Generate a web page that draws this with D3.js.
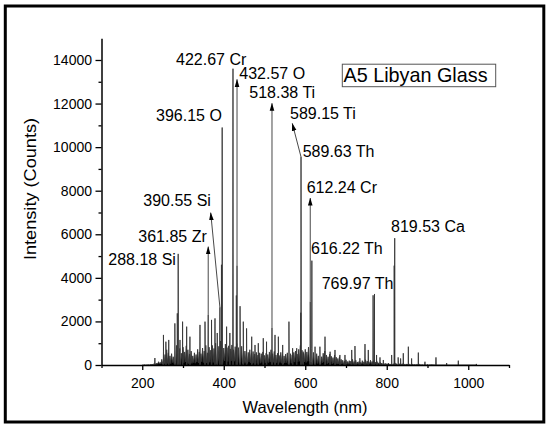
<!DOCTYPE html>
<html>
<head>
<meta charset="utf-8">
<script src="https://cdn.jsdelivr.net/npm/d3@7"></script>
<style>
  html, body { margin: 0; padding: 0; background: #fff; }
  svg { display: block; }
  text { font-family: "Liberation Sans", Arial, sans-serif; fill: #000; }
</style>
</head>
<body>
<svg id="chart" width="550" height="428"></svg>
<script>
// ---------------- DATA ----------------
const xTicks = [200, 400, 600, 800, 1000];
const xMinorTicks = [100, 300, 500, 700, 900, 1100];
const yTicks = [0, 2000, 4000, 6000, 8000, 10000, 12000, 14000];
const yMinorTicks = [1000, 3000, 5000, 7000, 9000, 11000, 13000];

// Dense background emission (2 nm grid starting at 200 nm), counts
const gridStart = 200;
const gridStep = 2;
const gridCounts = [
  0, 5, 0, 10, 0, 5, 10, 0, 15, 5, 20, 10, 30, 15, 40,
  10, 60, 20, 90, 30, 150, 40, 120, 50, 260,
  60, 620, 80, 480, 90, 700, 70, 560, 100, 420,
  60, 520, 110, 380, 70, 650, 120, 900, 90, 700,
  130, 760, 80, 540, 150, 820, 100, 600, 140, 880,
  90, 700, 60, 500, 120, 640, 70, 420, 110, 560,
  80, 480, 130, 720, 100, 600, 70, 520, 150, 780,
  110, 640, 140, 900, 90, 560, 160, 820, 120, 680,
  150, 900, 110, 760, 190, 1000, 130, 720, 170, 860,
  200, 1100, 170, 900, 130, 780, 190, 960, 140, 800,
  160, 880, 120, 740, 180, 920, 130, 700, 170, 840,
  190, 980, 150, 800, 130, 720, 170, 860, 120, 680,
  110, 640, 140, 760, 100, 580, 130, 700, 90, 540,
  120, 620, 80, 500, 110, 580, 70, 460, 100, 560,
  80, 520, 110, 600, 70, 440, 100, 540, 80, 480,
  110, 600, 130, 700, 90, 520, 120, 620, 80, 460,
  100, 540, 70, 440, 110, 580, 80, 480, 60, 420,
  90, 500, 110, 560, 70, 420, 100, 520, 80, 460,
  110, 580, 130, 640, 90, 500, 150, 720, 170, 900,
  130, 680, 100, 540, 140, 720, 110, 600, 170, 820,
  190, 1000, 130, 760, 110, 580, 80, 460, 100, 520,
  70, 420, 90, 480, 60, 380, 100, 540, 130, 640,
  80, 460, 60, 380, 90, 500, 70, 400, 50, 340,
  80, 460, 60, 360, 40, 300, 60, 380, 30, 260,
  30, 220, 20, 180, 40, 240, 20, 160, 30, 200,
  20, 180, 40, 260, 20, 160, 30, 220, 10, 140,
  20, 160, 10, 120, 30, 200, 20, 150, 30, 240,
  20, 180, 10, 140, 30, 220, 20, 160, 20, 200,
  10, 130, 20, 160, 10, 100, 20, 120, 10, 90,
  5, 70, 10, 80, 5, 60, 10, 90, 5, 50,
  10, 80, 5, 60, 10, 100, 5, 60, 0, 40,
  5, 60, 0, 40, 5, 70, 0, 30, 5, 50,
  0, 40, 5, 30, 0, 30, 5, 40, 0, 20,
  0, 30, 0, 20, 0, 30, 0, 20, 0, 15,
  0, 20, 0, 15, 0, 20, 0, 10, 0, 10
];

// Individual emission lines: wavelength (nm) and peak counts
const lineNm = [
  231, 252, 258, 265, 280, 286, 288.18, 292.6, 299, 309, 317, 341.7, 354,
  361.85, 370, 378.5, 384, 390.55, 394.4, 396.15, 407, 415, 422.67, 430.9,
  432.57, 440, 448, 456, 468.6, 476.7, 484.8, 497, 505, 518.38, 525.8, 534,
  544.6, 560, 569, 579, 589.0, 589.63, 595, 612.24, 616.22, 624, 636, 648.5,
  661, 673, 685, 697.5, 714, 722, 734, 746.6, 754.7, 766.5, 769.97, 775,
  783.4, 791.6, 812, 818.3, 819.53, 828, 834, 840.6, 853, 861, 877.5, 893.8,
  920.8, 947, 975.6, 1020
];
const lineCounts = [
  320, 1380, 1070, 1150, 1910, 2370, 5100, 1150, 1990, 1760, 1300, 1840, 1990,
  2300, 2070, 2140, 1470, 2650, 4600, 10900, 1760, 1470, 13600, 3190,
  4560, 2700, 1990, 1680, 1300, 920, 1000, 1230, 1070, 1700, 1380, 1300,
  920, 1990, 770, 770, 2400, 9550, 610, 2900, 4790, 840, 840, 1300,
  610, 690, 460, 460, 690, 870, 310, 960, 690, 3200, 3260, 460,
  350, 230, 460, 4560, 5820, 350, 300, 540, 840, 300, 570, 150,
  350, 90, 200, 50
];

// Annotation labels
const labelTexts = [
  "422.67 Cr", "432.57 O", "518.38 Ti", "396.15 O", "589.15 Ti", "589.63 Th",
  "612.24 Cr", "390.55 Si", "361.85 Zr", "288.18 Si", "819.53 Ca",
  "616.22 Th", "769.97 Th"
];

// Arrows: from (nm, counts) to (nm, counts)
const arrowFromNm = [361.85, 390.55, 432.57, 518.38, 589.63, 612.24];
const arrowFromCounts = [2300, 2650, 4560, 1700, 9550, 2900];
const arrowToNm = [361.85, 368.0, 432.57, 518.38, 568.2, 612.24];
const arrowToCounts = [5430, 6990, 13110, 12010, 11090, 7660];

const sampleName = "A5 Libyan Glass";
const xTitle = "Wavelength (nm)";
const yTitle = "Intensity (Counts)";

// ---------------- LAYOUT ----------------
const svg = d3.select("#chart");
const plot = { left: 101.5, right: 509, top: 38.2, bottom: 365 };
const x = d3.scaleLinear().domain([100, 1100]).range([plot.left, plot.right]);
const y = d3.scaleLinear().domain([0, 15000]).range([plot.bottom, plot.top]);

// label pixel positions (left x, baseline y), same order as labelTexts
const labelPos = [
  [176, 65], [239.3, 78.5], [249.3, 97.5], [156, 120.5], [290, 119.3],
  [302.7, 156.5], [306.7, 192.5], [143.3, 206], [138.3, 242.3],
  [108.3, 265], [391, 232.3], [311, 254], [321.7, 289]
];

svg.append("rect").attr("x", 0).attr("y", 0).attr("width", 550).attr("height", 428).attr("fill", "#fff");

// outer frame
svg.append("rect")
  .attr("x", 5.3).attr("y", 6).attr("width", 538.5).attr("height", 416)
  .attr("fill", "none").attr("stroke", "#000").attr("stroke-width", 3);

// ---------------- SPECTRUM ----------------
const pts = [];
gridCounts.forEach((c, i) => pts.push([gridStart + i * gridStep, c]));
lineNm.forEach((nm, i) => {
  pts.push([nm - 0.45, 0]);
  pts.push([nm, lineCounts[i]]);
  pts.push([nm + 0.45, 0]);
});
pts.sort((a, b) => a[0] - b[0]);

const area = d3.area().x(d => x(d[0])).y0(y(0)).y1(d => y(d[1]));
svg.append("path")
  .datum(pts)
  .attr("d", area)
  .attr("fill", "#000")
  .attr("stroke", "none");

const line = d3.line().x(d => x(d[0])).y(d => y(d[1]));
svg.append("path")
  .datum(pts)
  .attr("d", line)
  .attr("fill", "none")
  .attr("stroke", "#333")
  .attr("stroke-width", 0.85);

// ---------------- AXES ----------------
const fontFam = '"Liberation Sans", Arial, sans-serif';
const fmt = d3.format("d");

svg.append("g").attr("transform", `translate(${plot.left},0)`)
  .call(d3.axisLeft(y).tickValues(yTicks).tickSize(6).tickSizeOuter(0).tickPadding(3.5).tickFormat(fmt));
const yMinor = svg.append("g").attr("transform", `translate(${plot.left},0)`)
  .call(d3.axisLeft(y).tickValues(yMinorTicks).tickSize(3).tickSizeOuter(0).tickFormat(""));
yMinor.select(".domain").remove();

svg.append("g").attr("transform", `translate(0,${plot.bottom})`)
  .call(d3.axisBottom(x).tickValues(xTicks).tickSize(5).tickSizeOuter(0).tickPadding(8).tickFormat(fmt));
const xMinor = svg.append("g").attr("transform", `translate(0,${plot.bottom})`)
  .call(d3.axisBottom(x).tickValues(xMinorTicks).tickSize(3).tickSizeOuter(0).tickFormat(""));
xMinor.select(".domain").remove();

svg.selectAll(".domain").attr("stroke", "#000").attr("stroke-width", 1.5);
svg.selectAll(".tick line").attr("stroke", "#000").attr("stroke-width", 1.3);
svg.selectAll(".tick text")
  .attr("font-family", fontFam).attr("font-size", 14).attr("fill", "#000");

// axis titles
svg.append("text")
  .attr("x", 305).attr("y", 413.3)
  .attr("text-anchor", "middle")
  .attr("font-size", 16.5)
  .text(xTitle);

svg.append("text")
  .attr("transform", "translate(35.5,189) rotate(-90) scale(1.1,1)")
  .attr("text-anchor", "middle")
  .attr("font-size", 16.5)
  .text(yTitle);

// ---------------- ARROWS ----------------
const defs = svg.append("defs");
defs.append("marker")
  .attr("id", "ah")
  .attr("viewBox", "0 -3 8 6")
  .attr("refX", 7.5).attr("refY", 0)
  .attr("markerUnits", "userSpaceOnUse")
  .attr("markerWidth", 8).attr("markerHeight", 6)
  .attr("orient", "auto")
  .append("path").attr("d", "M0,-2.3L8,0L0,2.3Z").attr("fill", "#000");

arrowFromNm.forEach((nm, i) => {
  svg.append("line")
    .attr("x1", x(nm)).attr("y1", y(arrowFromCounts[i]))
    .attr("x2", x(arrowToNm[i])).attr("y2", y(arrowToCounts[i]))
    .attr("stroke", "#333").attr("stroke-width", 0.9)
    .attr("marker-end", "url(#ah)");
});

// ---------------- LABELS ----------------
labelTexts.forEach((t, i) => {
  svg.append("text")
    .attr("x", labelPos[i][0]).attr("y", labelPos[i][1])
    .attr("font-size", 16)
    .text(t);
});

// sample legend box
svg.append("rect")
  .attr("x", 342.3).attr("y", 64.2).attr("width", 153.4).attr("height", 22.5)
  .attr("fill", "#fff").attr("stroke", "#555").attr("stroke-width", 1);
svg.append("text")
  .attr("x", 343.5).attr("y", 82.3)
  .attr("font-size", 19.8)
  .text(sampleName);
</script>
</body>
</html>
